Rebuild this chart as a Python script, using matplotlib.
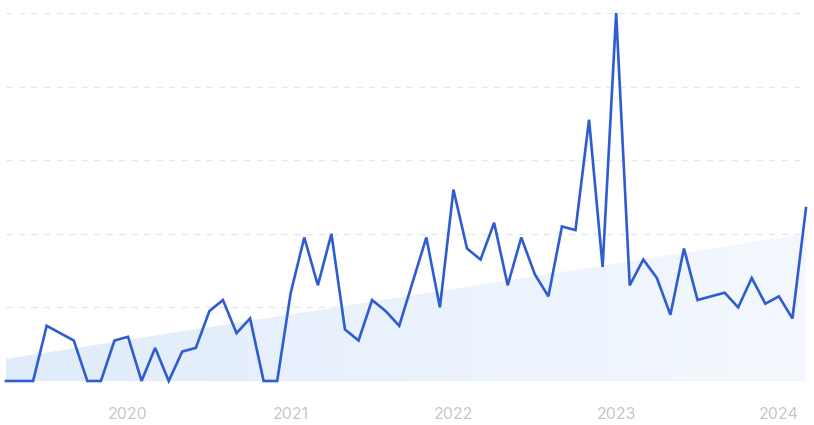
import matplotlib
matplotlib.use("Agg")
import matplotlib.pyplot as plt
import numpy as np
from matplotlib.colors import LinearSegmentedColormap
from matplotlib.patches import Polygon

# Monthly values, Apr 2019 .. Mar 2024
values = [0, 0, 0, 15, 13, 11, 0, 0, 11, 12,
          0, 9, 0, 8, 9, 19, 22, 13, 17, 0,
          0, 24, 39, 26, 40, 14, 11, 22, 19, 15,
          27, 39, 20, 52, 36, 33, 43, 26, 39, 29,
          23, 42, 41, 71, 31, 100, 26, 33, 28, 18,
          36, 22, 23, 24, 20, 28, 21, 23, 17, 47]
trend_start, trend_end = 6, 40
tick_positions = [9, 21, 33, 45, 57]
tick_labels = ["2020", "2021", "2022", "2023", "2024"]
grid_levels = [20, 40, 60, 80, 100]

W, H = 814, 425
fig = plt.figure(figsize=(W / 100, H / 100), dpi=100)
ax = fig.add_axes([6 / W, (H - 381) / H, 800 / W, 368 / H])
n = len(values)
x = np.arange(n)
ax.set_xlim(0, n - 1)
ax.set_ylim(0, 100)

# gradient trend area
poly = Polygon([(0, 0), (0, trend_start), (n - 1, trend_end), (n - 1, 0)],
               closed=True, facecolor="none", edgecolor="none")
ax.add_patch(poly)
cmap = LinearSegmentedColormap.from_list("g", ["#e0ecfb", "#f4f8fe"])
grad = np.linspace(0, 1, 256).reshape(1, -1)
im = ax.imshow(grad, cmap=cmap, aspect="auto", extent=[0, n - 1, 0, trend_end],
               origin="lower", zorder=1)
im.set_clip_path(poly)

for g in grid_levels:
    ax.axhline(g, color="#e2e7ee", lw=0.9, ls=(0, (5, 5)), zorder=0)
ax.axhline(0, color="#dde3ec", lw=1.0, zorder=2)

ax.plot(x, values, color="#2f5ccf", lw=1.9, solid_joinstyle="miter", zorder=3,
        clip_on=False)

for s in ax.spines.values():
    s.set_visible(False)
ax.set_yticks([])
ax.set_xticks(tick_positions)
ax.set_xticklabels(tick_labels, fontfamily="Inter", fontsize=11.5, color="#c6c6c6")
ax.tick_params(axis="x", length=0, pad=19)

fig.savefig("out.png", dpi=100)
